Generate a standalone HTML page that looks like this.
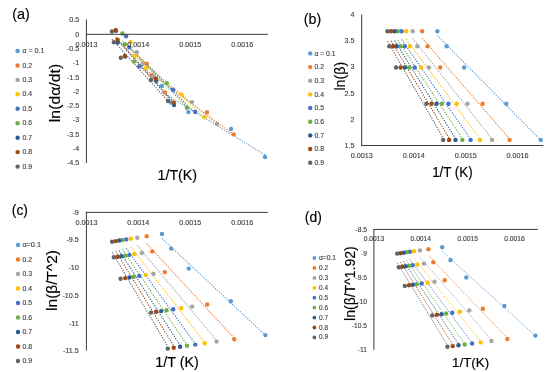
<!DOCTYPE html>
<html><head><meta charset="utf-8"><title>Kinetic plots</title>
<style>
html,body{margin:0;padding:0;background:#fff;}
svg{display:block;font-family:"Liberation Sans", Arial, sans-serif;}
.s{fill:#3c3c3c;stroke:#3c3c3c;stroke-width:0.12px;}
.t{fill:#000;stroke:#000;stroke-width:0.15px;}
</style></head>
<body>
<svg width="550" height="372" viewBox="0 0 550 372">
<rect width="550" height="372" fill="#ffffff"/>
<text x="12.3" y="19.2" font-size="15" textLength="17.6" lengthAdjust="spacingAndGlyphs" class="t">(a)</text>
<line x1="161.9" y1="91.8" x2="265.0" y2="155.0" stroke="#5B9BD5" stroke-width="1.05" stroke-dasharray="1.3 1.3"/>
<line x1="146.8" y1="70.5" x2="233.8" y2="134.6" stroke="#ED7D31" stroke-width="1.05" stroke-dasharray="1.3 1.3"/>
<line x1="136.9" y1="57.7" x2="217.1" y2="124.3" stroke="#A5A5A5" stroke-width="1.05" stroke-dasharray="1.3 1.3"/>
<line x1="130.7" y1="49.0" x2="204.5" y2="117.4" stroke="#FFC000" stroke-width="1.05" stroke-dasharray="1.3 1.3"/>
<line x1="126.1" y1="43.9" x2="195.2" y2="113.0" stroke="#4472C4" stroke-width="1.05" stroke-dasharray="1.3 1.3"/>
<line x1="122.4" y1="40.8" x2="186.9" y2="107.1" stroke="#70AD47" stroke-width="1.05" stroke-dasharray="1.3 1.3"/>
<line x1="116.0" y1="38.4" x2="174.0" y2="104.0" stroke="#255E91" stroke-width="1.05" stroke-dasharray="1.3 1.3"/>
<line x1="115.6" y1="37.0" x2="173.7" y2="101.9" stroke="#9E480E" stroke-width="1.05" stroke-dasharray="1.3 1.3"/>
<line x1="111.9" y1="39.1" x2="168.0" y2="101.0" stroke="#636363" stroke-width="1.05" stroke-dasharray="1.3 1.3"/>
<circle cx="161.9" cy="85.9" r="2.2" fill="#5B9BD5"/>
<circle cx="171.0" cy="102.5" r="2.2" fill="#5B9BD5"/>
<circle cx="188.4" cy="112.1" r="2.2" fill="#5B9BD5"/>
<circle cx="231.0" cy="128.9" r="2.2" fill="#5B9BD5"/>
<circle cx="265.0" cy="157.0" r="2.2" fill="#5B9BD5"/>
<circle cx="146.8" cy="63.8" r="2.2" fill="#ED7D31"/>
<circle cx="152.0" cy="74.9" r="2.2" fill="#ED7D31"/>
<circle cx="165.0" cy="92.5" r="2.2" fill="#ED7D31"/>
<circle cx="206.9" cy="112.3" r="2.2" fill="#ED7D31"/>
<circle cx="233.8" cy="134.4" r="2.2" fill="#ED7D31"/>
<circle cx="136.9" cy="52.2" r="2.2" fill="#A5A5A5"/>
<circle cx="142.4" cy="64.2" r="2.2" fill="#A5A5A5"/>
<circle cx="153.3" cy="76.5" r="2.2" fill="#A5A5A5"/>
<circle cx="192.0" cy="102.1" r="2.2" fill="#A5A5A5"/>
<circle cx="217.1" cy="124.0" r="2.2" fill="#A5A5A5"/>
<circle cx="130.7" cy="42.2" r="2.2" fill="#FFC000"/>
<circle cx="134.6" cy="56.0" r="2.2" fill="#FFC000"/>
<circle cx="145.9" cy="68.3" r="2.2" fill="#FFC000"/>
<circle cx="181.6" cy="94.6" r="2.2" fill="#FFC000"/>
<circle cx="204.5" cy="117.3" r="2.2" fill="#FFC000"/>
<circle cx="126.1" cy="36.3" r="2.2" fill="#4472C4"/>
<circle cx="129.3" cy="47.4" r="2.2" fill="#4472C4"/>
<circle cx="139.2" cy="66.5" r="2.2" fill="#4472C4"/>
<circle cx="173.0" cy="89.7" r="2.2" fill="#4472C4"/>
<circle cx="195.2" cy="112.0" r="2.2" fill="#4472C4"/>
<circle cx="122.4" cy="33.5" r="2.2" fill="#70AD47"/>
<circle cx="124.8" cy="44.3" r="2.2" fill="#70AD47"/>
<circle cx="134.0" cy="61.6" r="2.2" fill="#70AD47"/>
<circle cx="166.9" cy="83.1" r="2.2" fill="#70AD47"/>
<circle cx="186.9" cy="107.8" r="2.2" fill="#70AD47"/>
<circle cx="116.0" cy="30.8" r="2.2" fill="#255E91"/>
<circle cx="117.7" cy="42.5" r="2.2" fill="#255E91"/>
<circle cx="125.2" cy="56.5" r="2.2" fill="#255E91"/>
<circle cx="156.3" cy="80.8" r="2.2" fill="#255E91"/>
<circle cx="174.0" cy="105.0" r="2.2" fill="#255E91"/>
<circle cx="115.6" cy="30.3" r="2.2" fill="#9E480E"/>
<circle cx="117.6" cy="39.8" r="2.2" fill="#9E480E"/>
<circle cx="124.9" cy="55.9" r="2.2" fill="#9E480E"/>
<circle cx="155.8" cy="78.8" r="2.2" fill="#9E480E"/>
<circle cx="173.7" cy="102.6" r="2.2" fill="#9E480E"/>
<circle cx="111.9" cy="31.5" r="2.2" fill="#636363"/>
<circle cx="113.9" cy="42.2" r="2.2" fill="#636363"/>
<circle cx="120.8" cy="57.8" r="2.2" fill="#636363"/>
<circle cx="150.9" cy="80.0" r="2.2" fill="#636363"/>
<circle cx="168.0" cy="101.0" r="2.2" fill="#636363"/>
<line x1="86.4" y1="19.5" x2="86.4" y2="163.0" stroke="#3a3a3a" stroke-width="1"/>
<line x1="85.9" y1="34.3" x2="268.0" y2="34.3" stroke="#3a3a3a" stroke-width="1"/>
<text x="79.2" y="22.2" font-size="7.2" text-anchor="end" class="s">0.5</text>
<text x="79.2" y="36.5" font-size="7.2" text-anchor="end" class="s">0</text>
<text x="79.2" y="50.8" font-size="7.2" text-anchor="end" class="s">-0.5</text>
<text x="79.2" y="65.2" font-size="7.2" text-anchor="end" class="s">-1</text>
<text x="79.2" y="79.5" font-size="7.2" text-anchor="end" class="s">-1.5</text>
<text x="79.2" y="93.8" font-size="7.2" text-anchor="end" class="s">-2</text>
<text x="79.2" y="108.1" font-size="7.2" text-anchor="end" class="s">-2.5</text>
<text x="79.2" y="122.4" font-size="7.2" text-anchor="end" class="s">-3</text>
<text x="79.2" y="136.8" font-size="7.2" text-anchor="end" class="s">-3.5</text>
<text x="79.2" y="151.1" font-size="7.2" text-anchor="end" class="s">-4</text>
<text x="79.2" y="165.4" font-size="7.2" text-anchor="end" class="s">-4.5</text>
<text x="86.4" y="47.4" font-size="7.2" text-anchor="middle" class="s">0.0013</text>
<text x="138.3" y="47.4" font-size="7.2" text-anchor="middle" class="s">0.0014</text>
<text x="190.3" y="47.4" font-size="7.2" text-anchor="middle" class="s">0.0015</text>
<text x="242.2" y="47.4" font-size="7.2" text-anchor="middle" class="s">0.0016</text>
<circle cx="17.6" cy="51.0" r="2.2" fill="#5B9BD5"/>
<text x="22.4" y="53.1" font-size="7" textLength="22.0" lengthAdjust="spacingAndGlyphs" class="s">α = 0.1</text>
<circle cx="17.6" cy="65.5" r="2.2" fill="#ED7D31"/>
<text x="22.4" y="67.5" font-size="7" textLength="9.6" lengthAdjust="spacingAndGlyphs" class="s">0.2</text>
<circle cx="17.6" cy="79.9" r="2.2" fill="#A5A5A5"/>
<text x="22.4" y="82.0" font-size="7" textLength="9.6" lengthAdjust="spacingAndGlyphs" class="s">0.3</text>
<circle cx="17.6" cy="94.3" r="2.2" fill="#FFC000"/>
<text x="22.4" y="96.4" font-size="7" textLength="9.6" lengthAdjust="spacingAndGlyphs" class="s">0.4</text>
<circle cx="17.6" cy="108.8" r="2.2" fill="#4472C4"/>
<text x="22.4" y="110.9" font-size="7" textLength="9.6" lengthAdjust="spacingAndGlyphs" class="s">0.5</text>
<circle cx="17.6" cy="123.2" r="2.2" fill="#70AD47"/>
<text x="22.4" y="125.3" font-size="7" textLength="9.6" lengthAdjust="spacingAndGlyphs" class="s">0.6</text>
<circle cx="17.6" cy="137.7" r="2.2" fill="#255E91"/>
<text x="22.4" y="139.8" font-size="7" textLength="9.6" lengthAdjust="spacingAndGlyphs" class="s">0.7</text>
<circle cx="17.6" cy="152.1" r="2.2" fill="#9E480E"/>
<text x="22.4" y="154.2" font-size="7" textLength="9.6" lengthAdjust="spacingAndGlyphs" class="s">0.8</text>
<circle cx="17.6" cy="166.6" r="2.2" fill="#636363"/>
<text x="22.4" y="168.7" font-size="7" textLength="9.6" lengthAdjust="spacingAndGlyphs" class="s">0.9</text>
<text x="177.3" y="179.8" font-size="14" text-anchor="middle" textLength="39.6" lengthAdjust="spacingAndGlyphs" class="t">1/T(K)</text>
<text transform="translate(60.4 93.0) rotate(-90)" font-size="15" text-anchor="middle" textLength="58.3" lengthAdjust="spacingAndGlyphs" class="t">ln(dα/dt)</text>
<text x="303.8" y="24.0" font-size="15" textLength="17.4" lengthAdjust="spacingAndGlyphs" class="t">(b)</text>
<line x1="437.4" y1="35.6" x2="540.8" y2="140.2" stroke="#5B9BD5" stroke-width="1.05" stroke-dasharray="1.3 1.3"/>
<line x1="422.1" y1="38.2" x2="509.6" y2="138.9" stroke="#ED7D31" stroke-width="1.05" stroke-dasharray="1.3 1.3"/>
<line x1="412.7" y1="38.5" x2="492.0" y2="138.8" stroke="#A5A5A5" stroke-width="1.05" stroke-dasharray="1.3 1.3"/>
<line x1="406.2" y1="39.0" x2="480.0" y2="139.0" stroke="#FFC000" stroke-width="1.05" stroke-dasharray="1.3 1.3"/>
<line x1="401.6" y1="39.5" x2="470.6" y2="139.2" stroke="#4472C4" stroke-width="1.05" stroke-dasharray="1.3 1.3"/>
<line x1="397.8" y1="40.1" x2="462.4" y2="139.0" stroke="#70AD47" stroke-width="1.05" stroke-dasharray="1.3 1.3"/>
<line x1="394.6" y1="40.6" x2="455.5" y2="138.6" stroke="#255E91" stroke-width="1.05" stroke-dasharray="1.3 1.3"/>
<line x1="391.1" y1="40.8" x2="449.1" y2="138.2" stroke="#9E480E" stroke-width="1.05" stroke-dasharray="1.3 1.3"/>
<line x1="387.5" y1="41.2" x2="443.2" y2="138.1" stroke="#636363" stroke-width="1.05" stroke-dasharray="1.3 1.3"/>
<circle cx="437.4" cy="31.3" r="2.2" fill="#5B9BD5"/>
<circle cx="446.6" cy="46.3" r="2.2" fill="#5B9BD5"/>
<circle cx="464.1" cy="67.5" r="2.2" fill="#5B9BD5"/>
<circle cx="506.3" cy="103.7" r="2.2" fill="#5B9BD5"/>
<circle cx="540.8" cy="139.9" r="2.2" fill="#5B9BD5"/>
<circle cx="422.1" cy="31.3" r="2.2" fill="#ED7D31"/>
<circle cx="427.6" cy="46.3" r="2.2" fill="#ED7D31"/>
<circle cx="440.2" cy="67.5" r="2.2" fill="#ED7D31"/>
<circle cx="482.6" cy="103.7" r="2.2" fill="#ED7D31"/>
<circle cx="509.6" cy="139.9" r="2.2" fill="#ED7D31"/>
<circle cx="412.7" cy="31.3" r="2.2" fill="#A5A5A5"/>
<circle cx="417.3" cy="46.3" r="2.2" fill="#A5A5A5"/>
<circle cx="428.9" cy="67.5" r="2.2" fill="#A5A5A5"/>
<circle cx="467.5" cy="103.7" r="2.2" fill="#A5A5A5"/>
<circle cx="492.0" cy="139.9" r="2.2" fill="#A5A5A5"/>
<circle cx="406.2" cy="31.3" r="2.2" fill="#FFC000"/>
<circle cx="409.8" cy="46.3" r="2.2" fill="#FFC000"/>
<circle cx="421.1" cy="67.5" r="2.2" fill="#FFC000"/>
<circle cx="456.8" cy="103.7" r="2.2" fill="#FFC000"/>
<circle cx="480.0" cy="139.9" r="2.2" fill="#FFC000"/>
<circle cx="401.6" cy="31.3" r="2.2" fill="#4472C4"/>
<circle cx="404.7" cy="46.3" r="2.2" fill="#4472C4"/>
<circle cx="414.7" cy="67.5" r="2.2" fill="#4472C4"/>
<circle cx="448.6" cy="103.7" r="2.2" fill="#4472C4"/>
<circle cx="470.6" cy="139.9" r="2.2" fill="#4472C4"/>
<circle cx="397.8" cy="31.3" r="2.2" fill="#70AD47"/>
<circle cx="400.6" cy="46.3" r="2.2" fill="#70AD47"/>
<circle cx="409.1" cy="67.5" r="2.2" fill="#70AD47"/>
<circle cx="441.9" cy="103.7" r="2.2" fill="#70AD47"/>
<circle cx="462.4" cy="139.9" r="2.2" fill="#70AD47"/>
<circle cx="394.6" cy="31.3" r="2.2" fill="#255E91"/>
<circle cx="396.7" cy="46.3" r="2.2" fill="#255E91"/>
<circle cx="404.9" cy="67.5" r="2.2" fill="#255E91"/>
<circle cx="436.6" cy="103.7" r="2.2" fill="#255E91"/>
<circle cx="455.5" cy="139.9" r="2.2" fill="#255E91"/>
<circle cx="391.1" cy="31.3" r="2.2" fill="#9E480E"/>
<circle cx="393.1" cy="46.3" r="2.2" fill="#9E480E"/>
<circle cx="400.6" cy="67.5" r="2.2" fill="#9E480E"/>
<circle cx="431.5" cy="103.7" r="2.2" fill="#9E480E"/>
<circle cx="449.1" cy="139.9" r="2.2" fill="#9E480E"/>
<circle cx="387.5" cy="31.3" r="2.2" fill="#636363"/>
<circle cx="389.3" cy="46.3" r="2.2" fill="#636363"/>
<circle cx="396.0" cy="67.5" r="2.2" fill="#636363"/>
<circle cx="426.4" cy="103.7" r="2.2" fill="#636363"/>
<circle cx="443.2" cy="139.9" r="2.2" fill="#636363"/>
<line x1="361.7" y1="14.5" x2="361.7" y2="146.0" stroke="#3a3a3a" stroke-width="1"/>
<line x1="361.2" y1="145.5" x2="543.4" y2="145.5" stroke="#3a3a3a" stroke-width="1"/>
<text x="354.4" y="17.2" font-size="7.2" text-anchor="end" class="s">4</text>
<text x="354.4" y="43.3" font-size="7.2" text-anchor="end" class="s">3.5</text>
<text x="354.4" y="69.4" font-size="7.2" text-anchor="end" class="s">3</text>
<text x="354.4" y="95.6" font-size="7.2" text-anchor="end" class="s">2.5</text>
<text x="354.4" y="121.7" font-size="7.2" text-anchor="end" class="s">2</text>
<text x="354.4" y="147.8" font-size="7.2" text-anchor="end" class="s">1.5</text>
<text x="361.8" y="158.0" font-size="7.2" text-anchor="middle" class="s">0.0013</text>
<text x="413.7" y="158.0" font-size="7.2" text-anchor="middle" class="s">0.0014</text>
<text x="465.7" y="158.0" font-size="7.2" text-anchor="middle" class="s">0.0015</text>
<text x="517.6" y="158.0" font-size="7.2" text-anchor="middle" class="s">0.0016</text>
<circle cx="310.2" cy="53.4" r="2.2" fill="#5B9BD5"/>
<text x="314.4" y="55.5" font-size="7" textLength="21.2" lengthAdjust="spacingAndGlyphs" class="s">α = 0.1</text>
<circle cx="310.2" cy="67.1" r="2.2" fill="#ED7D31"/>
<text x="314.4" y="69.2" font-size="7" textLength="9.6" lengthAdjust="spacingAndGlyphs" class="s">0.2</text>
<circle cx="310.2" cy="80.7" r="2.2" fill="#A5A5A5"/>
<text x="314.4" y="82.8" font-size="7" textLength="9.6" lengthAdjust="spacingAndGlyphs" class="s">0.3</text>
<circle cx="310.2" cy="94.4" r="2.2" fill="#FFC000"/>
<text x="314.4" y="96.5" font-size="7" textLength="9.6" lengthAdjust="spacingAndGlyphs" class="s">0.4</text>
<circle cx="310.2" cy="108.0" r="2.2" fill="#4472C4"/>
<text x="314.4" y="110.1" font-size="7" textLength="9.6" lengthAdjust="spacingAndGlyphs" class="s">0.5</text>
<circle cx="310.2" cy="121.7" r="2.2" fill="#70AD47"/>
<text x="314.4" y="123.8" font-size="7" textLength="9.6" lengthAdjust="spacingAndGlyphs" class="s">0.6</text>
<circle cx="310.2" cy="135.4" r="2.2" fill="#255E91"/>
<text x="314.4" y="137.5" font-size="7" textLength="9.6" lengthAdjust="spacingAndGlyphs" class="s">0.7</text>
<circle cx="310.2" cy="149.0" r="2.2" fill="#9E480E"/>
<text x="314.4" y="151.1" font-size="7" textLength="9.6" lengthAdjust="spacingAndGlyphs" class="s">0.8</text>
<circle cx="310.2" cy="162.7" r="2.2" fill="#636363"/>
<text x="314.4" y="164.8" font-size="7" textLength="9.6" lengthAdjust="spacingAndGlyphs" class="s">0.9</text>
<text x="452.4" y="176.5" font-size="14" text-anchor="middle" textLength="40.5" lengthAdjust="spacingAndGlyphs" class="t">1/T (K)</text>
<text transform="translate(344.8 76.2) rotate(-90)" font-size="15" text-anchor="middle" textLength="28.8" lengthAdjust="spacingAndGlyphs" class="t">ln(β)</text>
<text x="11.8" y="215.0" font-size="15" textLength="16.2" lengthAdjust="spacingAndGlyphs" class="t">(c)</text>
<line x1="162.0" y1="238.5" x2="265.4" y2="335.3" stroke="#5B9BD5" stroke-width="1.05" stroke-dasharray="1.3 1.3"/>
<line x1="146.7" y1="243.7" x2="234.2" y2="338.1" stroke="#ED7D31" stroke-width="1.05" stroke-dasharray="1.3 1.3"/>
<line x1="137.3" y1="245.4" x2="216.6" y2="340.5" stroke="#A5A5A5" stroke-width="1.05" stroke-dasharray="1.3 1.3"/>
<line x1="130.8" y1="246.9" x2="204.6" y2="342.3" stroke="#FFC000" stroke-width="1.05" stroke-dasharray="1.3 1.3"/>
<line x1="126.2" y1="248.2" x2="195.2" y2="343.8" stroke="#4472C4" stroke-width="1.05" stroke-dasharray="1.3 1.3"/>
<line x1="122.4" y1="249.4" x2="187.0" y2="344.8" stroke="#70AD47" stroke-width="1.05" stroke-dasharray="1.3 1.3"/>
<line x1="119.2" y1="250.5" x2="180.1" y2="345.4" stroke="#255E91" stroke-width="1.05" stroke-dasharray="1.3 1.3"/>
<line x1="115.7" y1="251.2" x2="173.7" y2="345.9" stroke="#9E480E" stroke-width="1.05" stroke-dasharray="1.3 1.3"/>
<line x1="112.1" y1="252.2" x2="167.8" y2="346.6" stroke="#636363" stroke-width="1.05" stroke-dasharray="1.3 1.3"/>
<circle cx="162.0" cy="234.0" r="2.2" fill="#5B9BD5"/>
<circle cx="171.2" cy="248.6" r="2.2" fill="#5B9BD5"/>
<circle cx="188.7" cy="268.6" r="2.2" fill="#5B9BD5"/>
<circle cx="230.9" cy="301.2" r="2.2" fill="#5B9BD5"/>
<circle cx="265.4" cy="335.1" r="2.2" fill="#5B9BD5"/>
<circle cx="146.7" cy="236.3" r="2.2" fill="#ED7D31"/>
<circle cx="152.2" cy="251.4" r="2.2" fill="#ED7D31"/>
<circle cx="164.8" cy="272.1" r="2.2" fill="#ED7D31"/>
<circle cx="207.2" cy="304.5" r="2.2" fill="#ED7D31"/>
<circle cx="234.2" cy="339.2" r="2.2" fill="#ED7D31"/>
<circle cx="137.3" cy="237.7" r="2.2" fill="#A5A5A5"/>
<circle cx="141.9" cy="253.0" r="2.2" fill="#A5A5A5"/>
<circle cx="153.5" cy="273.8" r="2.2" fill="#A5A5A5"/>
<circle cx="192.1" cy="306.6" r="2.2" fill="#A5A5A5"/>
<circle cx="216.6" cy="341.6" r="2.2" fill="#A5A5A5"/>
<circle cx="130.8" cy="238.7" r="2.2" fill="#FFC000"/>
<circle cx="134.4" cy="254.1" r="2.2" fill="#FFC000"/>
<circle cx="145.7" cy="274.9" r="2.2" fill="#FFC000"/>
<circle cx="181.4" cy="308.1" r="2.2" fill="#FFC000"/>
<circle cx="204.6" cy="343.3" r="2.2" fill="#FFC000"/>
<circle cx="126.2" cy="239.4" r="2.2" fill="#4472C4"/>
<circle cx="129.3" cy="254.9" r="2.2" fill="#4472C4"/>
<circle cx="139.3" cy="275.9" r="2.2" fill="#4472C4"/>
<circle cx="173.2" cy="309.3" r="2.2" fill="#4472C4"/>
<circle cx="195.2" cy="344.6" r="2.2" fill="#4472C4"/>
<circle cx="122.4" cy="240.0" r="2.2" fill="#70AD47"/>
<circle cx="125.2" cy="255.6" r="2.2" fill="#70AD47"/>
<circle cx="133.7" cy="276.8" r="2.2" fill="#70AD47"/>
<circle cx="166.5" cy="310.3" r="2.2" fill="#70AD47"/>
<circle cx="187.0" cy="345.8" r="2.2" fill="#70AD47"/>
<circle cx="119.2" cy="240.5" r="2.2" fill="#255E91"/>
<circle cx="121.3" cy="256.2" r="2.2" fill="#255E91"/>
<circle cx="129.5" cy="277.4" r="2.2" fill="#255E91"/>
<circle cx="161.2" cy="311.1" r="2.2" fill="#255E91"/>
<circle cx="180.1" cy="346.8" r="2.2" fill="#255E91"/>
<circle cx="115.7" cy="241.1" r="2.2" fill="#9E480E"/>
<circle cx="117.7" cy="256.7" r="2.2" fill="#9E480E"/>
<circle cx="125.2" cy="278.1" r="2.2" fill="#9E480E"/>
<circle cx="156.1" cy="311.8" r="2.2" fill="#9E480E"/>
<circle cx="173.7" cy="347.7" r="2.2" fill="#9E480E"/>
<circle cx="112.1" cy="241.7" r="2.2" fill="#636363"/>
<circle cx="113.9" cy="257.3" r="2.2" fill="#636363"/>
<circle cx="120.6" cy="278.8" r="2.2" fill="#636363"/>
<circle cx="151.0" cy="312.6" r="2.2" fill="#636363"/>
<circle cx="167.8" cy="348.6" r="2.2" fill="#636363"/>
<line x1="86.4" y1="211.9" x2="86.4" y2="350.6" stroke="#3a3a3a" stroke-width="1"/>
<line x1="85.9" y1="212.4" x2="267.9" y2="212.4" stroke="#3a3a3a" stroke-width="1"/>
<text x="78.8" y="214.6" font-size="7.2" text-anchor="end" class="s">-9</text>
<text x="78.8" y="242.3" font-size="7.2" text-anchor="end" class="s">-9.5</text>
<text x="78.8" y="270.1" font-size="7.2" text-anchor="end" class="s">-10</text>
<text x="78.8" y="297.8" font-size="7.2" text-anchor="end" class="s">-10.5</text>
<text x="78.8" y="325.6" font-size="7.2" text-anchor="end" class="s">-11</text>
<text x="78.8" y="353.3" font-size="7.2" text-anchor="end" class="s">-11.5</text>
<text x="86.4" y="225.2" font-size="7.2" text-anchor="middle" class="s">0.0013</text>
<text x="138.3" y="225.2" font-size="7.2" text-anchor="middle" class="s">0.0014</text>
<text x="190.3" y="225.2" font-size="7.2" text-anchor="middle" class="s">0.0015</text>
<text x="242.2" y="225.2" font-size="7.2" text-anchor="middle" class="s">0.0016</text>
<circle cx="18.0" cy="245.0" r="2.2" fill="#5B9BD5"/>
<text x="22.4" y="247.1" font-size="7" textLength="18.6" lengthAdjust="spacingAndGlyphs" class="s">α=0.1</text>
<circle cx="18.0" cy="259.5" r="2.2" fill="#ED7D31"/>
<text x="22.4" y="261.6" font-size="7" textLength="9.6" lengthAdjust="spacingAndGlyphs" class="s">0.2</text>
<circle cx="18.0" cy="274.0" r="2.2" fill="#A5A5A5"/>
<text x="22.4" y="276.1" font-size="7" textLength="9.6" lengthAdjust="spacingAndGlyphs" class="s">0.3</text>
<circle cx="18.0" cy="288.5" r="2.2" fill="#FFC000"/>
<text x="22.4" y="290.6" font-size="7" textLength="9.6" lengthAdjust="spacingAndGlyphs" class="s">0.4</text>
<circle cx="18.0" cy="303.0" r="2.2" fill="#4472C4"/>
<text x="22.4" y="305.1" font-size="7" textLength="9.6" lengthAdjust="spacingAndGlyphs" class="s">0.5</text>
<circle cx="18.0" cy="317.5" r="2.2" fill="#70AD47"/>
<text x="22.4" y="319.6" font-size="7" textLength="9.6" lengthAdjust="spacingAndGlyphs" class="s">0.6</text>
<circle cx="18.0" cy="332.0" r="2.2" fill="#255E91"/>
<text x="22.4" y="334.1" font-size="7" textLength="9.6" lengthAdjust="spacingAndGlyphs" class="s">0.7</text>
<circle cx="18.0" cy="346.5" r="2.2" fill="#9E480E"/>
<text x="22.4" y="348.6" font-size="7" textLength="9.6" lengthAdjust="spacingAndGlyphs" class="s">0.8</text>
<circle cx="18.0" cy="361.0" r="2.2" fill="#636363"/>
<text x="22.4" y="363.1" font-size="7" textLength="9.6" lengthAdjust="spacingAndGlyphs" class="s">0.9</text>
<text x="177.0" y="366.5" font-size="14.2" text-anchor="middle" textLength="43.3" lengthAdjust="spacingAndGlyphs" class="t">1/T (K)</text>
<text transform="translate(56.5 280.5) rotate(-90)" font-size="15" text-anchor="middle" textLength="60.8" lengthAdjust="spacingAndGlyphs" class="t">ln(β/T^2)</text>
<text x="304.8" y="222.1" font-size="14.5" textLength="17.0" lengthAdjust="spacingAndGlyphs" class="t">(d)</text>
<line x1="442.2" y1="251.2" x2="535.4" y2="335.8" stroke="#5B9BD5" stroke-width="0.95" stroke-dasharray="1.1 1.2"/>
<line x1="428.4" y1="255.6" x2="507.3" y2="338.0" stroke="#ED7D31" stroke-width="0.95" stroke-dasharray="1.1 1.2"/>
<line x1="419.9" y1="257.0" x2="491.4" y2="340.0" stroke="#A5A5A5" stroke-width="0.95" stroke-dasharray="1.1 1.2"/>
<line x1="414.0" y1="258.3" x2="480.6" y2="341.5" stroke="#FFC000" stroke-width="0.95" stroke-dasharray="1.1 1.2"/>
<line x1="409.9" y1="259.4" x2="472.1" y2="342.8" stroke="#4472C4" stroke-width="0.95" stroke-dasharray="1.1 1.2"/>
<line x1="406.5" y1="260.4" x2="464.7" y2="343.6" stroke="#70AD47" stroke-width="0.95" stroke-dasharray="1.1 1.2"/>
<line x1="403.6" y1="261.3" x2="458.5" y2="344.1" stroke="#255E91" stroke-width="0.95" stroke-dasharray="1.1 1.2"/>
<line x1="400.4" y1="261.9" x2="452.7" y2="344.5" stroke="#9E480E" stroke-width="0.95" stroke-dasharray="1.1 1.2"/>
<line x1="397.2" y1="262.8" x2="447.4" y2="345.1" stroke="#636363" stroke-width="0.95" stroke-dasharray="1.1 1.2"/>
<circle cx="442.2" cy="247.3" r="2.2" fill="#5B9BD5"/>
<circle cx="450.5" cy="260.0" r="2.2" fill="#5B9BD5"/>
<circle cx="466.3" cy="277.4" r="2.2" fill="#5B9BD5"/>
<circle cx="504.3" cy="306.0" r="2.2" fill="#5B9BD5"/>
<circle cx="535.4" cy="335.6" r="2.2" fill="#5B9BD5"/>
<circle cx="428.4" cy="249.2" r="2.2" fill="#ED7D31"/>
<circle cx="433.3" cy="262.3" r="2.2" fill="#ED7D31"/>
<circle cx="444.7" cy="280.3" r="2.2" fill="#ED7D31"/>
<circle cx="482.9" cy="308.7" r="2.2" fill="#ED7D31"/>
<circle cx="507.3" cy="339.0" r="2.2" fill="#ED7D31"/>
<circle cx="419.9" cy="250.4" r="2.2" fill="#A5A5A5"/>
<circle cx="424.0" cy="263.6" r="2.2" fill="#A5A5A5"/>
<circle cx="434.5" cy="281.7" r="2.2" fill="#A5A5A5"/>
<circle cx="469.3" cy="310.4" r="2.2" fill="#A5A5A5"/>
<circle cx="491.4" cy="341.0" r="2.2" fill="#A5A5A5"/>
<circle cx="414.0" cy="251.2" r="2.2" fill="#FFC000"/>
<circle cx="417.3" cy="264.6" r="2.2" fill="#FFC000"/>
<circle cx="427.5" cy="282.7" r="2.2" fill="#FFC000"/>
<circle cx="459.7" cy="311.7" r="2.2" fill="#FFC000"/>
<circle cx="480.6" cy="342.4" r="2.2" fill="#FFC000"/>
<circle cx="409.9" cy="251.8" r="2.2" fill="#4472C4"/>
<circle cx="412.7" cy="265.3" r="2.2" fill="#4472C4"/>
<circle cx="421.7" cy="283.5" r="2.2" fill="#4472C4"/>
<circle cx="452.3" cy="312.7" r="2.2" fill="#4472C4"/>
<circle cx="472.1" cy="343.5" r="2.2" fill="#4472C4"/>
<circle cx="406.5" cy="252.3" r="2.2" fill="#70AD47"/>
<circle cx="409.0" cy="265.8" r="2.2" fill="#70AD47"/>
<circle cx="416.7" cy="284.2" r="2.2" fill="#70AD47"/>
<circle cx="446.2" cy="313.5" r="2.2" fill="#70AD47"/>
<circle cx="464.7" cy="344.5" r="2.2" fill="#70AD47"/>
<circle cx="403.6" cy="252.7" r="2.2" fill="#255E91"/>
<circle cx="405.5" cy="266.3" r="2.2" fill="#255E91"/>
<circle cx="412.9" cy="284.8" r="2.2" fill="#255E91"/>
<circle cx="441.5" cy="314.2" r="2.2" fill="#255E91"/>
<circle cx="458.5" cy="345.3" r="2.2" fill="#255E91"/>
<circle cx="400.4" cy="253.2" r="2.2" fill="#9E480E"/>
<circle cx="402.2" cy="266.8" r="2.2" fill="#9E480E"/>
<circle cx="409.0" cy="285.3" r="2.2" fill="#9E480E"/>
<circle cx="436.9" cy="314.8" r="2.2" fill="#9E480E"/>
<circle cx="452.7" cy="346.1" r="2.2" fill="#9E480E"/>
<circle cx="397.2" cy="253.6" r="2.2" fill="#636363"/>
<circle cx="398.8" cy="267.3" r="2.2" fill="#636363"/>
<circle cx="404.8" cy="285.9" r="2.2" fill="#636363"/>
<circle cx="432.3" cy="315.4" r="2.2" fill="#636363"/>
<circle cx="447.4" cy="346.8" r="2.2" fill="#636363"/>
<line x1="373.9" y1="229.0" x2="373.9" y2="349.8" stroke="#3a3a3a" stroke-width="1"/>
<line x1="373.4" y1="229.4" x2="537.9" y2="229.4" stroke="#3a3a3a" stroke-width="1"/>
<text x="367.0" y="231.7" font-size="6.7" text-anchor="end" class="s">-8.5</text>
<text x="367.0" y="255.8" font-size="6.7" text-anchor="end" class="s">-9</text>
<text x="367.0" y="279.9" font-size="6.7" text-anchor="end" class="s">-9.5</text>
<text x="367.0" y="304.0" font-size="6.7" text-anchor="end" class="s">-10</text>
<text x="367.0" y="328.1" font-size="6.7" text-anchor="end" class="s">-10.5</text>
<text x="367.0" y="352.2" font-size="6.7" text-anchor="end" class="s">-11</text>
<text x="374.0" y="241.1" font-size="6.7" text-anchor="middle" class="s">0.0013</text>
<text x="420.8" y="241.1" font-size="6.7" text-anchor="middle" class="s">0.0014</text>
<text x="467.7" y="241.1" font-size="6.7" text-anchor="middle" class="s">0.0015</text>
<text x="514.5" y="241.1" font-size="6.7" text-anchor="middle" class="s">0.0016</text>
<circle cx="314.4" cy="258.0" r="1.9" fill="#5B9BD5"/>
<text x="319.0" y="260.0" font-size="6.6" textLength="17.0" lengthAdjust="spacingAndGlyphs" class="s">α=0.1</text>
<circle cx="314.4" cy="267.9" r="1.9" fill="#ED7D31"/>
<text x="319.0" y="269.9" font-size="6.6" textLength="9.0" lengthAdjust="spacingAndGlyphs" class="s">0.2</text>
<circle cx="314.4" cy="277.9" r="1.9" fill="#A5A5A5"/>
<text x="319.0" y="279.8" font-size="6.6" textLength="9.0" lengthAdjust="spacingAndGlyphs" class="s">0.3</text>
<circle cx="314.4" cy="287.8" r="1.9" fill="#FFC000"/>
<text x="319.0" y="289.8" font-size="6.6" textLength="9.0" lengthAdjust="spacingAndGlyphs" class="s">0.4</text>
<circle cx="314.4" cy="297.7" r="1.9" fill="#4472C4"/>
<text x="319.0" y="299.7" font-size="6.6" textLength="9.0" lengthAdjust="spacingAndGlyphs" class="s">0.5</text>
<circle cx="314.4" cy="307.6" r="1.9" fill="#70AD47"/>
<text x="319.0" y="309.6" font-size="6.6" textLength="9.0" lengthAdjust="spacingAndGlyphs" class="s">0.6</text>
<circle cx="314.4" cy="317.6" r="1.9" fill="#255E91"/>
<text x="319.0" y="319.6" font-size="6.6" textLength="9.0" lengthAdjust="spacingAndGlyphs" class="s">0.7</text>
<circle cx="314.4" cy="327.5" r="1.9" fill="#9E480E"/>
<text x="319.0" y="329.5" font-size="6.6" textLength="9.0" lengthAdjust="spacingAndGlyphs" class="s">0.8</text>
<circle cx="314.4" cy="337.4" r="1.9" fill="#636363"/>
<text x="319.0" y="339.4" font-size="6.6" textLength="9.0" lengthAdjust="spacingAndGlyphs" class="s">0.9</text>
<text x="470.6" y="366.5" font-size="13" text-anchor="middle" textLength="37.0" lengthAdjust="spacingAndGlyphs" class="t">1/T(K)</text>
<text transform="translate(355.4 283.6) rotate(-90)" font-size="14.5" text-anchor="middle" textLength="74.6" lengthAdjust="spacingAndGlyphs" class="t">ln(β/T^1.92)</text>
</svg>
</body></html>
